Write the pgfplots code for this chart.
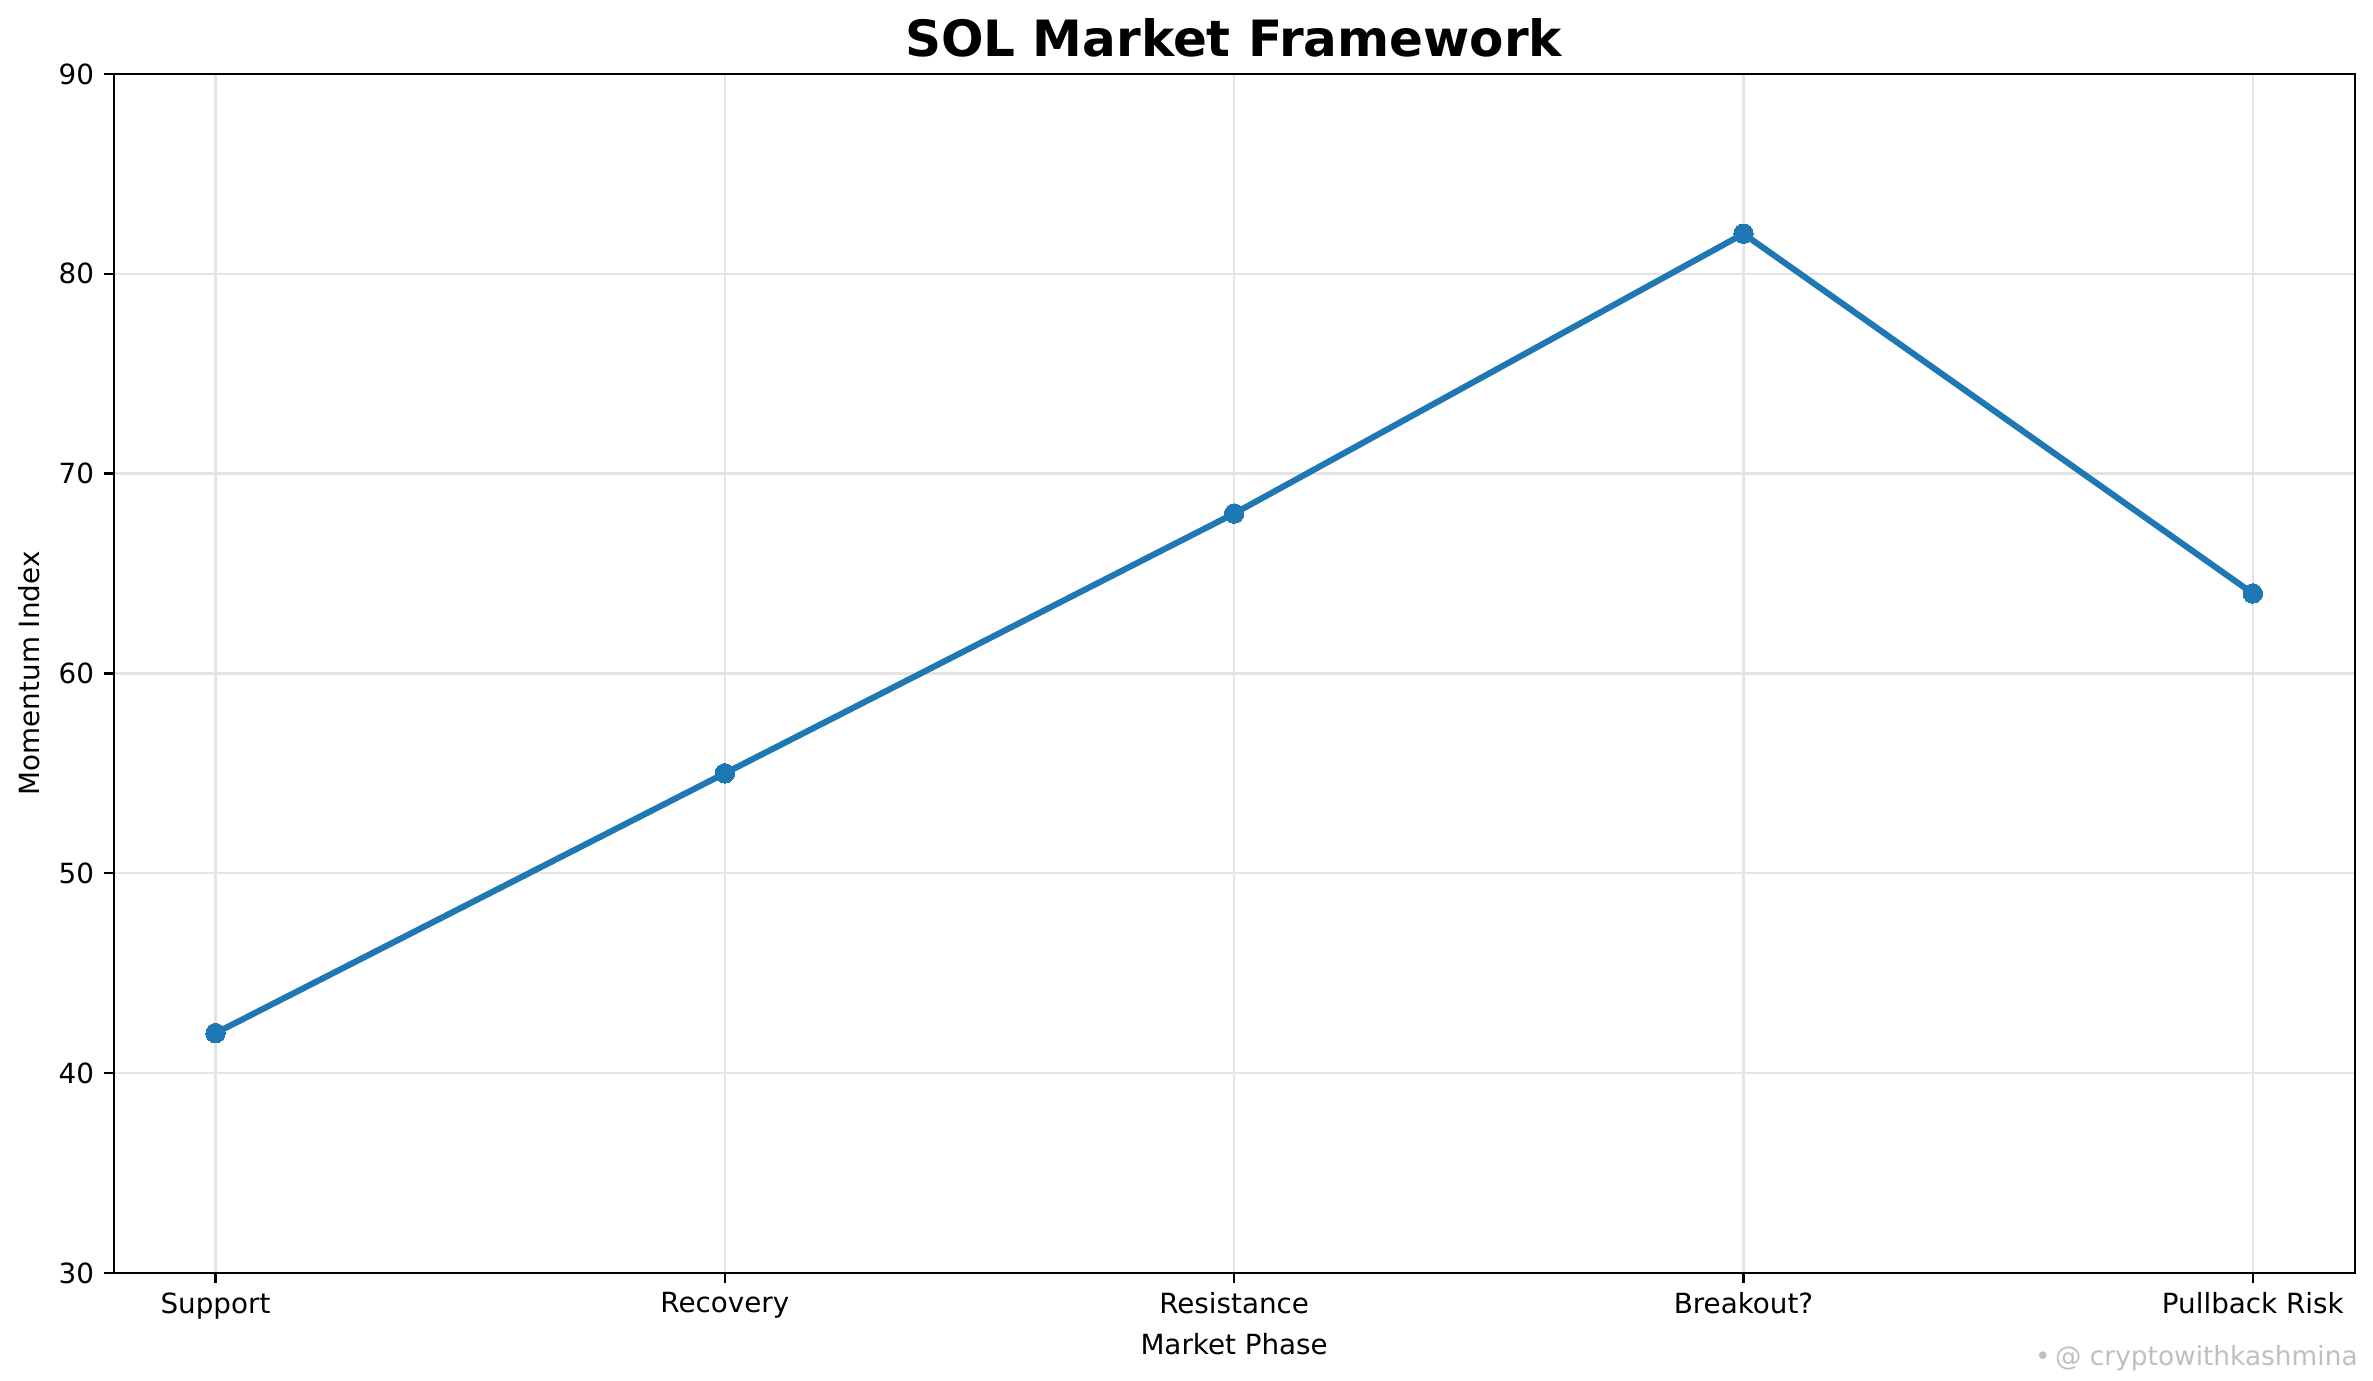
\documentclass[border=0pt]{standalone}
\usepackage{pgfplots}
\pgfplotsset{compat=1.18}
\usepackage{fontspec}
\setmainfont{DejaVu Sans}
\definecolor{mplblue}{HTML}{1F77B4}
\definecolor{gridc}{RGB}{228,228,228}
\begin{document}
\begin{tikzpicture}
\useasboundingbox (0,0) rectangle (854pt,496.8pt);
\begin{axis}[
  at={(40.9pt,38.7pt)}, anchor=south west,
  width=806.5pt, height=431.5pt, scale only axis=true,
  xmin=-0.2, xmax=4.2, ymin=30, ymax=90,
  xtick={0,1,2,3,4},
  xticklabels={Support,Recovery,Resistance,Breakout?,Pullback Risk},
  ytick={30,40,50,60,70,80,90},
  grid=major,
  major grid style={gridc, line width=0.8pt},
  axis line style={line width=0.8pt, black},
  major tick style={line width=0.8pt, black},
  tick align=outside, tick pos=left,
  major tick length=3.5pt,
  /pgf/number format/assume math mode=true,
  ticklabel style={font=\fontsize{10}{12}\selectfont},
  xlabel={Market Phase}, ylabel={Momentum Index},
  label style={font=\fontsize{10}{12}\selectfont},
  xlabel style={yshift=1.5pt},
  title={\textbf{SOL Market Framework}},
  title style={font=\fontsize{18}{21}\selectfont, yshift=-3.7pt},
  clip=false,
]
\addplot[mplblue, line width=2.2pt, mark=*, mark size=3.5pt, mark options={fill=mplblue, draw=mplblue, line width=0pt}]
  coordinates {(0,42) (1,55) (2,68) (3,82) (4,64)};
\end{axis}
\node[anchor=east, text=black!25, font=\fontsize{9.5}{11}\selectfont] at (852pt,8pt) {\textbullet\,@ cryptowithkashmina};
\end{tikzpicture}
\end{document}
